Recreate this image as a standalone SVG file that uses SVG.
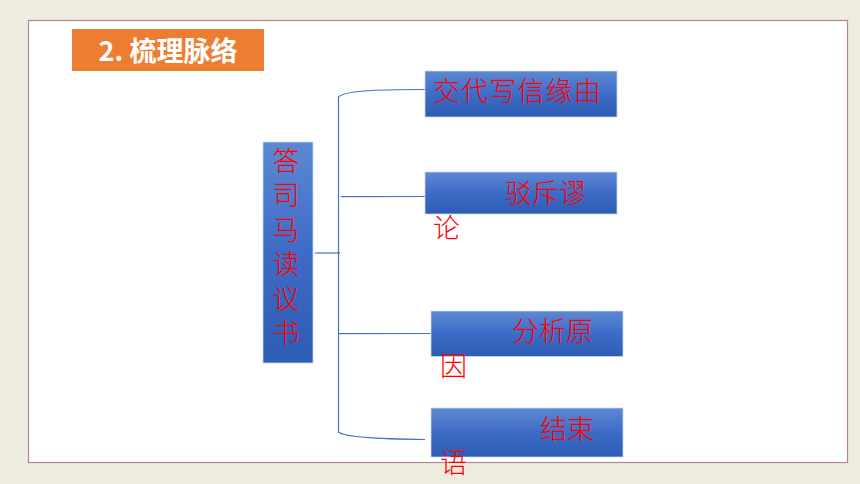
<svg xmlns="http://www.w3.org/2000/svg" width="860" height="484" viewBox="0 0 860 484">
<defs>
<linearGradient id="blue" x1="0" y1="0" x2="0" y2="1">
<stop offset="0" stop-color="#5d88d2"/>
<stop offset="0.5" stop-color="#3d6cc8"/>
<stop offset="1" stop-color="#2d5cb3"/>
</linearGradient>
<style>
.box{fill:url(#blue);stroke:#c9d6ef;stroke-width:0.8}
.lbl{font-family:"Noto Sans CJK SC","Noto Sans",sans-serif;font-size:27px;fill:#ff0000;font-weight:300}
.con{fill:none;stroke:#4472c4;stroke-width:1.2}
</style>
</defs>
<rect x="0" y="0" width="860" height="484" fill="#eeebe1"/>
<rect x="28.5" y="20.5" width="819" height="442" fill="#ffffff" stroke="#b3878f" stroke-width="1.2"/>
<g id="title">
<rect x="72" y="29" width="192" height="42" fill="#ed7d31"/>
<text x="168" y="61" text-anchor="middle" font-family="'Noto Sans CJK SC','Noto Sans',sans-serif" font-size="27" font-weight="700" fill="#ffffff">2. 梳理脉络</text>
</g>
<g id="connectors">
<path class="con" d="M425,89.5 C372,89.5 344,91 338.5,97 L338.5,432 C344,437 372,439 425,439.5"/>
<path class="con" d="M315,253 L340,253"/>
<path class="con" d="M341,196.7 L425,196.5"/>
<path class="con" d="M338.5,333.7 L431,333.5"/>
</g>
<g id="root">
<rect class="box" x="263" y="142" width="50" height="221"/>
<text class="lbl" x="286" y="147" writing-mode="vertical-rl" letter-spacing="7.5">答司马读议书</text>
</g>
<g id="n1">
<rect class="box" x="425" y="71" width="192" height="46"/>
<text class="lbl" x="433" y="101" font-size="28" textLength="168">交代写信缘由</text>
</g>
<g id="n2">
<rect class="box" x="425" y="172" width="192" height="42"/>
<text class="lbl" x="505" y="203">驳斥谬</text>
<text class="lbl" x="433" y="238">论</text>
</g>
<g id="n3">
<rect class="box" x="431" y="311" width="192" height="45.5"/>
<text class="lbl" x="512" y="341">分析原</text>
<text class="lbl" x="440" y="376">因</text>
</g>
<g id="n4">
<rect class="box" x="431" y="408" width="192" height="49"/>
<text class="lbl" x="540" y="439">结束</text>
<text class="lbl" x="440" y="473">语</text>
</g>
</svg>
